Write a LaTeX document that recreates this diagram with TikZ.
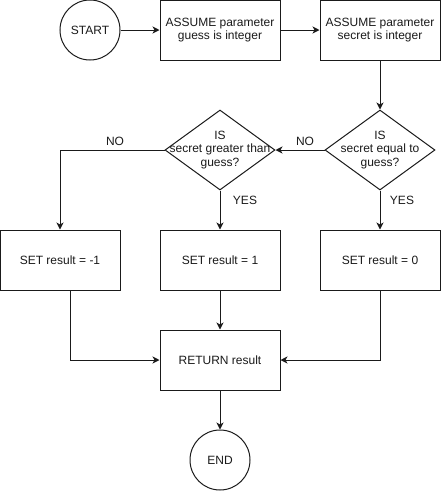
\documentclass[tikz,border=0pt]{standalone}
\usepackage{fontspec}
\setmainfont{Liberation Sans}
\usetikzlibrary{positioning,shapes.geometric,arrows,arrows.meta}
\definecolor{ink}{HTML}{1A1A1A}
\tikzset{
  >=stealth,
  every node/.style={font=\fontsize{12}{13.5}\selectfont, text=ink},
  % --- nodes
  proc/.style = {draw=ink, fill=white, line width=1pt, align=center, inner sep=0pt,
                 minimum width=120pt, minimum height=60pt},
  term/.style = {proc, circle, minimum size=60pt},
  dec/.style  = {draw=ink, fill=white, line width=1pt, diamond, inner sep=0pt,
                 minimum width=110pt, minimum height=80pt},
  dtxt/.style = {align=center, inner sep=0pt},
  tag/.style  = {inner sep=1pt},
  % --- edges
  e/.style    = {-{Stealth[length=7pt,width=7pt,inset=2pt]}, line width=1pt, draw=ink},
}

\begin{document}
\begin{tikzpicture}[x=1pt,y=-1pt]
  \useasboundingbox (0,0) rectangle (441,491);
  \node[term] (start) at (90,30) {START};
  \node[proc] (guess) at (220,30) {ASSUME parameter\\guess is integer};
  \node[proc] (secret) at (380,30) {ASSUME parameter\\secret is integer};
  \node[dec] (eq) at (380,150) {};
  \node[dtxt] (eqtxt) at (eq) {IS\\secret equal to\\guess?};
  \node[dec] (gt) at (220,150) {};
  \node[dtxt] (gttxt) at (gt) {IS\\secret greater than\\guess?};
  \node[proc] (neg) at (60,260) {SET result = -1};
  \node[proc] (pos) at (220,260) {SET result = 1};
  \node[proc] (zero) at (380,260) {SET result = 0};
  \node[proc] (ret) at (220,360) {RETURN result};
  \node[term] (stop) at (220,460) {END};
  % branch labels
  \node[tag] (no1) at (305,141) {NO};
  \node[tag] (no2) at (115,141) {NO};
  \node[tag] (yes1) at (402,200) {YES};
  \node[tag] (yes2) at (245,200) {YES};
  \draw[e] (start)--(guess); \draw[e] (guess)--(secret); \draw[e] (secret)--(eq);
  \draw[e] (eq.west)--(gt.east); \draw[e] (eq)--(zero); \draw[e] (gt)--(pos);
  \draw[e] (gt.west)-|(neg.north);
  \draw[e] ([xshift=10pt]neg.south)|-(ret.west); \draw[e] (pos)--(ret);
  \draw[e] (zero.south)|-(ret.east); \draw[e] (ret)--(stop);
\end{tikzpicture}
\end{document}
